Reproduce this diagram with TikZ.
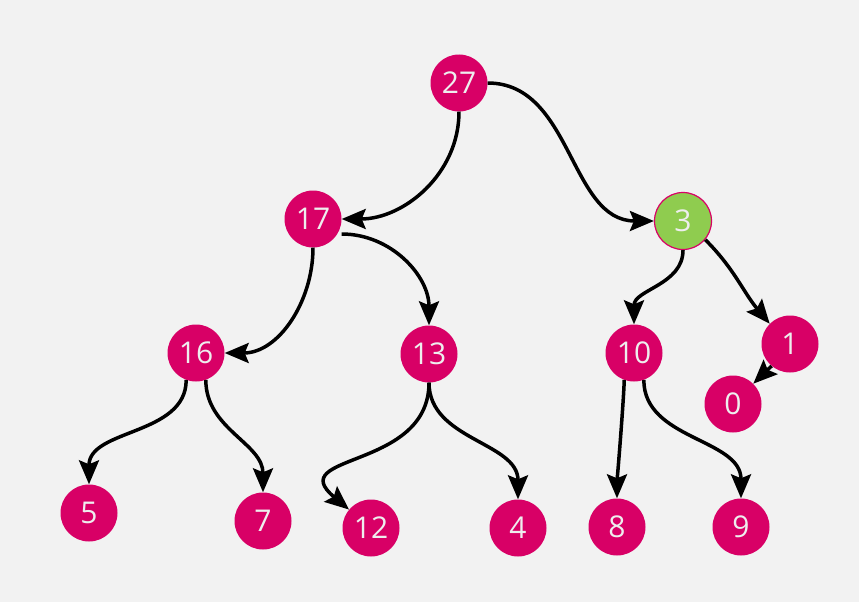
\documentclass[tikz,border=0pt]{standalone}
\usepackage{fontspec}
\setmainfont{Open Sans}
\usetikzlibrary{arrows.meta}
\definecolor{bg}{HTML}{F2F2F2}
\definecolor{nodefill}{HTML}{D80066}
\definecolor{greenfill}{HTML}{8FCC4F}
\definecolor{txt}{HTML}{EEEEEE}
\tikzset{
  vert/.style={circle, fill=nodefill, minimum size=57pt, inner sep=0pt, text=txt, font=\fontsize{30}{30}\selectfont},
  greenvert/.style={vert, fill=greenfill, draw=nodefill, line width=1.2pt},
  edge/.style={line width=3.5pt, -{Stealth[length=24pt,width=20pt,inset=4pt]}},
}
\begin{document}
\begin{tikzpicture}[x=1pt,y=-1pt]
\fill[bg] (0,0) rectangle (859,602);
\useasboundingbox (0,0) rectangle (859,602);
\node[vert] (n27) at (459,83) {27};
\node[vert] (n17) at (313,219) {17};
\node[greenvert] (n3) at (683,221) {3};
\node[vert] (n16) at (196,353) {16};
\node[vert] (n13) at (429,354) {13};
\node[vert] (n10) at (634,353) {10};
\node[vert] (n1) at (790,344) {1};
\node[vert] (n0) at (733,404) {0};
\node[vert] (n5) at (89,513) {5};
\node[vert] (n7) at (263,521) {7};
\node[vert] (n12) at (371,528) {12};
\node[vert] (n4) at (518,528) {4};
\node[vert] (n8) at (617,527) {8};
\node[vert] (n9) at (741,527) {9};

\draw[edge] (n27.south) to[out=-90,in=0] (n17.east);
\draw[edge] (n27.east) to[out=0,in=180] (n3.west);
\draw[edge] (n17.south) to[out=-90,in=0] (n16.east);
\draw[edge] (n17.east) ++(0,15) coordinate (a) (a) to[out=0,in=90] (n13.north);
\draw[edge] (n3.south) to[out=-90,in=90] (n10.north);
\draw[edge] (n3.-40) to[out=-45,in=130] (n1.135);
\draw[edge] (n1.-130) -- (n0.45);
\draw[edge] (n16.-110) to[out=-90,in=90] (n5.north);
\draw[edge] (n16.-70) to[out=-90,in=90] (n7.north);
\draw[edge] (n13.south) to[out=-90,in=140,looseness=1.5] (n12.140);
\draw[edge] (n13.south) to[out=-90,in=90] (n4.north);
\draw[edge] (n10.-110) to[out=-90,in=90,looseness=0.3] (n8.north);
\draw[edge] (n10.-70) to[out=-90,in=90] (n9.north);
\end{tikzpicture}
\end{document}
